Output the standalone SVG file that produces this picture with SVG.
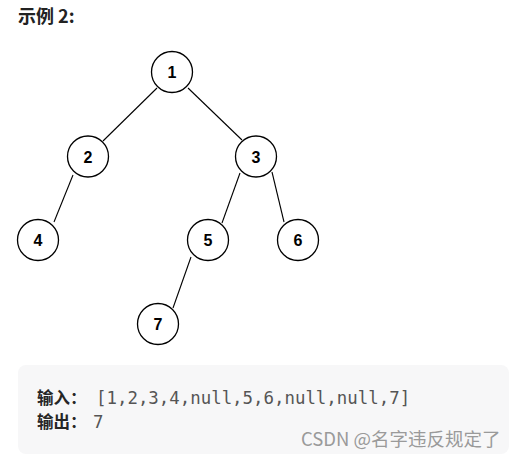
<svg xmlns="http://www.w3.org/2000/svg" width="518" height="463" viewBox="0 0 518 463">
<style>
.n circle{fill:#fff;stroke:#000;stroke-width:1.3}
.n text{font-family:"Liberation Sans",Arial,sans-serif;font-weight:bold;font-size:16px;text-anchor:middle;fill:#000}
.e line{stroke:#000;stroke-width:1.1}
.cjk{font-family:"Noto Sans CJK SC","Liberation Sans",sans-serif}
.mono{font-family:"DejaVu Sans Mono","Liberation Mono",monospace;font-size:17.4px;fill:#555}
</style>
<rect width="518" height="463" fill="#fff"/>
<text x="18" y="23" class="cjk" font-size="18" font-weight="bold" fill="#222">示例 2:</text>
<g id="connectors" class="e">
<line x1="157" y1="88" x2="103" y2="141"/>
<line x1="188" y1="88" x2="242" y2="140"/>
<line x1="73" y1="175" x2="54" y2="222"/>
<line x1="240" y1="173" x2="222" y2="223"/>
<line x1="272" y1="172" x2="284" y2="222"/>
<line x1="191" y1="257" x2="173" y2="308"/>
</g>
<g id="node1" class="n"><circle cx="172" cy="72" r="20.5"/><text x="172" y="78">1</text></g>
<g id="node2" class="n"><circle cx="88" cy="156.5" r="20.5"/><text x="88" y="162.5">2</text></g>
<g id="node3" class="n"><circle cx="256" cy="156.5" r="20.5"/><text x="256" y="162.5">3</text></g>
<g id="node4" class="n"><circle cx="38" cy="240" r="20.5"/><text x="38" y="246">4</text></g>
<g id="node5" class="n"><circle cx="208" cy="240" r="20.5"/><text x="208" y="246">5</text></g>
<g id="node6" class="n"><circle cx="298" cy="240" r="20.5"/><text x="298" y="246">6</text></g>
<g id="node7" class="n"><circle cx="158" cy="324" r="20.5"/><text x="158" y="330">7</text></g>
<rect x="18" y="365" width="491" height="89" rx="8" fill="#f7f7f8"/>
<text x="37" y="404" class="cjk" font-size="16.5" font-weight="bold" fill="#262626">输入：</text>
<text x="96" y="404" class="mono">[1,2,3,4,null,5,6,null,null,7]</text>
<text x="37" y="428" class="cjk" font-size="16.5" font-weight="bold" fill="#262626">输出：</text>
<text x="93" y="428" class="mono">7</text>
<text x="301" y="446" class="cjk" font-size="18.5" fill="#9a9a9a">CSDN @名字违反规定了</text>
</svg>
